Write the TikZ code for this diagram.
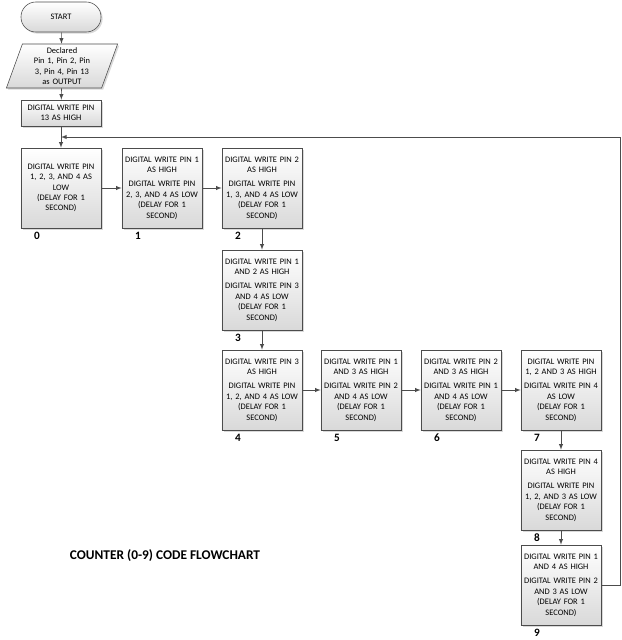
\documentclass[tikz,border=0pt]{standalone}
\usepackage{fontspec}
\setmainfont{Carlito}
\usetikzlibrary{positioning,shapes.geometric,shadows}
\begin{document}
\begin{tikzpicture}[x=0.025cm,y=-0.025cm]
    \tikzstyle{every node}=[font=\fontsize{6}{7.4}\selectfont, align=center]
    \tikzset{
        n/.style={draw=black!70, top color=white, bottom color=black!15, drop shadow={opacity=0.3,shadow xshift=0.4mm,shadow yshift=-0.4mm}, minimum height=2cm, minimum width=2cm, text width=1.95cm, inner sep=0.5pt},
        n2/.style={n, minimum height=0.65cm},
        lbl/.style={font=\bfseries\fontsize{8}{9}\selectfont},
        ar/.style={-latex, draw=black!70}
        }
    \useasboundingbox (0,0) rectangle (622,640);

    %start and setup
    \node (start) [n, rounded corners=0.37cm, minimum height=0.75cm, text width=1.6cm] at (61,17) {START};
    \node (decl) [n, trapezium, trapezium left angle=70, trapezium right angle=110, minimum height=1.1cm, text width=1.7cm, minimum width=2cm] at (62,66) {Declared\\Pin 1, Pin 2, Pin\\3, Pin 4, Pin 13\\as OUTPUT};
    \node (pin13) [n2] at (61,113) {DIGITAL WRITE PIN\\13 AS HIGH};

    %digits
    \node (d0) [n] at (61,188) {DIGITAL WRITE PIN\\1, 2, 3, AND 4 AS\\LOW\\(DELAY FOR 1\\SECOND)};
    \node (d1) [n] at (162,188) {DIGITAL WRITE PIN 1\\AS HIGH\\[1ex]DIGITAL WRITE PIN\\2, 3, AND 4 AS LOW\\(DELAY FOR 1\\SECOND)};
    \node (d2) [n] at (262,188) {DIGITAL WRITE PIN 2\\AS HIGH\\[1ex]DIGITAL WRITE PIN\\1, 3, AND 4 AS LOW\\(DELAY FOR 1\\SECOND)};
    \node (d3) [n] at (262,290) {DIGITAL WRITE PIN 1\\AND 2 AS HIGH\\[1ex]DIGITAL WRITE PIN 3\\AND 4 AS LOW\\(DELAY FOR 1\\SECOND)};
    \node (d4) [n] at (262,390) {DIGITAL WRITE PIN 3\\AS HIGH\\[1ex]DIGITAL WRITE PIN\\1, 2, AND 4 AS LOW\\(DELAY FOR 1\\SECOND)};
    \node (d5) [n] at (361,390) {DIGITAL WRITE PIN 1\\AND 3 AS HIGH\\[1ex]DIGITAL WRITE PIN 2\\AND 4 AS LOW\\(DELAY FOR 1\\SECOND)};
    \node (d6) [n] at (461,390) {DIGITAL WRITE PIN 2\\AND 3 AS HIGH\\[1ex]DIGITAL WRITE PIN 1\\AND 4 AS LOW\\(DELAY FOR 1\\SECOND)};
    \node (d7) [n] at (561,390) {DIGITAL WRITE PIN\\1, 2 AND 3 AS HIGH\\[1ex]DIGITAL WRITE PIN 4\\AS LOW\\(DELAY FOR 1\\SECOND)};
    \node (d8) [n] at (561,490) {DIGITAL WRITE PIN 4\\AS HIGH\\[1ex]DIGITAL WRITE PIN\\1, 2, AND 3 AS LOW\\(DELAY FOR 1\\SECOND)};
    \node (d9) [n] at (561,585) {DIGITAL WRITE PIN 1\\AND 4 AS HIGH\\[1ex]DIGITAL WRITE PIN 2\\AND 3 AS LOW\\(DELAY FOR 1\\SECOND)};

    %digit labels
    \foreach \d in {0,...,9}
        \node (l\d) [lbl, below right=-1pt and -2.1cm of d\d.south east, anchor=north west, xshift=3mm] {\d};

    %title
    \node (title) [font=\bfseries\fontsize{9.5}{11}\selectfont] at (165,556) {COUNTER (0-9) CODE FLOWCHART};

    %loop corner points
    \coordinate (c1) at (620,585);
    \coordinate (c2) at (620,137);
    \coordinate (c3) at (61,137);

    \draw[ar] (start) -- (decl);
    \draw[ar] (decl) -- (pin13);
    \draw[ar] (pin13) -- (d0);
    \draw[ar] (d0) -- (d1);
    \draw[ar] (d1) -- (d2);
    \draw[ar] (d2) -- (d3);
    \draw[ar] (d3) -- (d4);
    \draw[ar] (d4) -- (d5);
    \draw[ar] (d5) -- (d6);
    \draw[ar] (d6) -- (d7);
    \draw[ar] (d7) -- (d8);
    \draw[ar] (d8) -- (d9);
    \draw[ar] (d9.east) -- (c1) -- (c2) -- (c3);
\end{tikzpicture}
\end{document}
